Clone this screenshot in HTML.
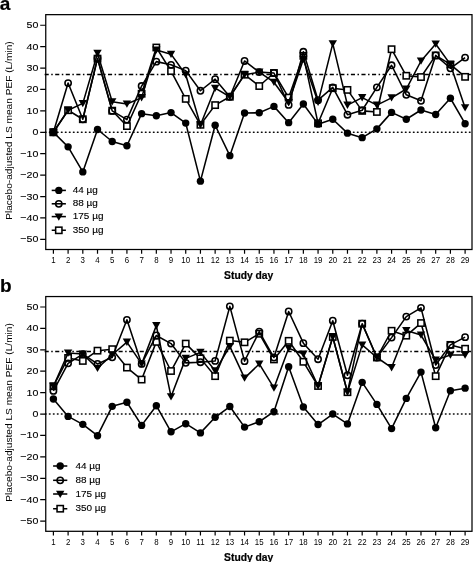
<!DOCTYPE html>
<html><head><meta charset="utf-8"><title>Placebo-adjusted LS mean PEF by study day</title>
<style>html,body{margin:0;padding:0;background:#fff}svg{display:block}text{font-family:"Liberation Sans",Arial,Helvetica,sans-serif;fill:#000;stroke:#000}</style></head><body>
<svg width="473" height="562" viewBox="0 0 473 562">
<rect width="473" height="562" fill="#fff"/>
<g id="panel-a">
<text transform="translate(-0.3 10.2)" font-size="19" font-weight="bold" stroke-width="0.2">a</text>
<line x1="45.5" x2="472" y1="132.3" y2="132.3" stroke="#000" stroke-width="1.6" stroke-linecap="round" stroke-dasharray="0.5 3.5"/>
<line x1="44.64" x2="472" y1="74.48" y2="74.48" stroke="#000" stroke-width="1.7" stroke-dasharray="4.1 2.5 1.5 2.46"/>
<rect x="45.75" y="14.65" width="426.25" height="234.85" fill="none" stroke="#000" stroke-width="1.25"/>
<path d="M40.2 239.38H45.75M40.2 217.96H45.75M40.2 196.55H45.75M40.2 175.13H45.75M40.2 153.72H45.75M40.2 132.3H45.75M40.2 110.89H45.75M40.2 89.47H45.75M40.2 68.06H45.75M40.2 46.64H45.75M40.2 25.23H45.75M53.4 249.5V253.8M68.1 249.5V253.8M82.81 249.5V253.8M97.51 249.5V253.8M112.21 249.5V253.8M126.92 249.5V253.8M141.62 249.5V253.8M156.33 249.5V253.8M171.03 249.5V253.8M185.73 249.5V253.8M200.44 249.5V253.8M215.14 249.5V253.8M229.84 249.5V253.8M244.55 249.5V253.8M259.25 249.5V253.8M273.95 249.5V253.8M288.66 249.5V253.8M303.36 249.5V253.8M318.06 249.5V253.8M332.77 249.5V253.8M347.47 249.5V253.8M362.18 249.5V253.8M376.88 249.5V253.8M391.58 249.5V253.8M406.29 249.5V253.8M420.99 249.5V253.8M435.69 249.5V253.8M450.4 249.5V253.8M465.1 249.5V253.8" stroke="#000" stroke-width="1.2" fill="none"/>
<text transform="translate(38.4 242.38) scale(1.12 1)" font-size="9.5" text-anchor="end" stroke-width="0.12">−50</text>
<text transform="translate(38.4 220.96) scale(1.12 1)" font-size="9.5" text-anchor="end" stroke-width="0.12">−40</text>
<text transform="translate(38.4 199.55) scale(1.12 1)" font-size="9.5" text-anchor="end" stroke-width="0.12">−30</text>
<text transform="translate(38.4 178.13) scale(1.12 1)" font-size="9.5" text-anchor="end" stroke-width="0.12">−20</text>
<text transform="translate(38.4 156.72) scale(1.12 1)" font-size="9.5" text-anchor="end" stroke-width="0.12">−10</text>
<text transform="translate(38.4 135.3) scale(1.12 1)" font-size="9.5" text-anchor="end" stroke-width="0.12">0</text>
<text transform="translate(38.4 113.89) scale(1.12 1)" font-size="9.5" text-anchor="end" stroke-width="0.12">10</text>
<text transform="translate(38.4 92.47) scale(1.12 1)" font-size="9.5" text-anchor="end" stroke-width="0.12">20</text>
<text transform="translate(38.4 71.06) scale(1.12 1)" font-size="9.5" text-anchor="end" stroke-width="0.12">30</text>
<text transform="translate(38.4 49.64) scale(1.12 1)" font-size="9.5" text-anchor="end" stroke-width="0.12">40</text>
<text transform="translate(38.4 28.23) scale(1.12 1)" font-size="9.5" text-anchor="end" stroke-width="0.12">50</text>
<text transform="translate(53.4 262.8) scale(0.94 1)" font-size="8.4" text-anchor="middle" stroke-width="0">1</text>
<text transform="translate(68.1 262.8) scale(0.94 1)" font-size="8.4" text-anchor="middle" stroke-width="0">2</text>
<text transform="translate(82.81 262.8) scale(0.94 1)" font-size="8.4" text-anchor="middle" stroke-width="0">3</text>
<text transform="translate(97.51 262.8) scale(0.94 1)" font-size="8.4" text-anchor="middle" stroke-width="0">4</text>
<text transform="translate(112.21 262.8) scale(0.94 1)" font-size="8.4" text-anchor="middle" stroke-width="0">5</text>
<text transform="translate(126.92 262.8) scale(0.94 1)" font-size="8.4" text-anchor="middle" stroke-width="0">6</text>
<text transform="translate(141.62 262.8) scale(0.94 1)" font-size="8.4" text-anchor="middle" stroke-width="0">7</text>
<text transform="translate(156.33 262.8) scale(0.94 1)" font-size="8.4" text-anchor="middle" stroke-width="0">8</text>
<text transform="translate(171.03 262.8) scale(0.94 1)" font-size="8.4" text-anchor="middle" stroke-width="0">9</text>
<text transform="translate(185.73 262.8) scale(0.94 1)" font-size="8.4" text-anchor="middle" stroke-width="0">10</text>
<text transform="translate(200.44 262.8) scale(0.94 1)" font-size="8.4" text-anchor="middle" stroke-width="0">11</text>
<text transform="translate(215.14 262.8) scale(0.94 1)" font-size="8.4" text-anchor="middle" stroke-width="0">12</text>
<text transform="translate(229.84 262.8) scale(0.94 1)" font-size="8.4" text-anchor="middle" stroke-width="0">13</text>
<text transform="translate(244.55 262.8) scale(0.94 1)" font-size="8.4" text-anchor="middle" stroke-width="0">14</text>
<text transform="translate(259.25 262.8) scale(0.94 1)" font-size="8.4" text-anchor="middle" stroke-width="0">15</text>
<text transform="translate(273.95 262.8) scale(0.94 1)" font-size="8.4" text-anchor="middle" stroke-width="0">16</text>
<text transform="translate(288.66 262.8) scale(0.94 1)" font-size="8.4" text-anchor="middle" stroke-width="0">17</text>
<text transform="translate(303.36 262.8) scale(0.94 1)" font-size="8.4" text-anchor="middle" stroke-width="0">18</text>
<text transform="translate(318.06 262.8) scale(0.94 1)" font-size="8.4" text-anchor="middle" stroke-width="0">19</text>
<text transform="translate(332.77 262.8) scale(0.94 1)" font-size="8.4" text-anchor="middle" stroke-width="0">20</text>
<text transform="translate(347.47 262.8) scale(0.94 1)" font-size="8.4" text-anchor="middle" stroke-width="0">21</text>
<text transform="translate(362.18 262.8) scale(0.94 1)" font-size="8.4" text-anchor="middle" stroke-width="0">22</text>
<text transform="translate(376.88 262.8) scale(0.94 1)" font-size="8.4" text-anchor="middle" stroke-width="0">23</text>
<text transform="translate(391.58 262.8) scale(0.94 1)" font-size="8.4" text-anchor="middle" stroke-width="0">24</text>
<text transform="translate(406.29 262.8) scale(0.94 1)" font-size="8.4" text-anchor="middle" stroke-width="0">25</text>
<text transform="translate(420.99 262.8) scale(0.94 1)" font-size="8.4" text-anchor="middle" stroke-width="0">26</text>
<text transform="translate(435.69 262.8) scale(0.94 1)" font-size="8.4" text-anchor="middle" stroke-width="0">27</text>
<text transform="translate(450.4 262.8) scale(0.94 1)" font-size="8.4" text-anchor="middle" stroke-width="0">28</text>
<text transform="translate(465.1 262.8) scale(0.94 1)" font-size="8.4" text-anchor="middle" stroke-width="0">29</text>
<text transform="translate(248.7 279) scale(1.03 1)" font-size="10" text-anchor="middle" font-weight="bold" stroke-width="0.2">Study day</text>
<text transform="translate(12.3 130.57) rotate(-90) scale(1.08 1)" font-size="9.4" text-anchor="middle" stroke-width="0">Placebo-adjusted LS mean PEF (L/min)</text>
<path d="M53.4 132.3L68.1 110.24L82.81 119.24L97.51 58.63L112.21 110.67L126.92 126.09L141.62 93.75L156.33 47.5L171.03 71.05L185.73 98.89L200.44 124.8L215.14 105.1L229.84 96.75L244.55 74.69L259.25 86.04L273.95 72.98L288.66 97.61L303.36 55.85L318.06 123.31L332.77 88.19L347.47 89.9L362.18 110.89L376.88 111.96L391.58 49.21L406.29 75.76L420.99 77.05L435.69 55.42L450.4 64.41L465.1 76.84" fill="none" stroke="#000" stroke-width="1.55" stroke-linejoin="round"/>
<g fill="#fff" stroke="#000" stroke-width="1.55"><rect x="50.25" y="129.15" width="6.3" height="6.3"/><rect x="64.95" y="107.09" width="6.3" height="6.3"/><rect x="79.66" y="116.09" width="6.3" height="6.3"/><rect x="94.36" y="55.48" width="6.3" height="6.3"/><rect x="109.06" y="107.52" width="6.3" height="6.3"/><rect x="123.77" y="122.94" width="6.3" height="6.3"/><rect x="138.47" y="90.6" width="6.3" height="6.3"/><rect x="153.18" y="44.35" width="6.3" height="6.3"/><rect x="167.88" y="67.9" width="6.3" height="6.3"/><rect x="182.58" y="95.74" width="6.3" height="6.3"/><rect x="197.29" y="121.65" width="6.3" height="6.3"/><rect x="211.99" y="101.95" width="6.3" height="6.3"/><rect x="226.69" y="93.6" width="6.3" height="6.3"/><rect x="241.4" y="71.54" width="6.3" height="6.3"/><rect x="256.1" y="82.89" width="6.3" height="6.3"/><rect x="270.8" y="69.83" width="6.3" height="6.3"/><rect x="285.51" y="94.46" width="6.3" height="6.3"/><rect x="300.21" y="52.7" width="6.3" height="6.3"/><rect x="314.91" y="120.16" width="6.3" height="6.3"/><rect x="329.62" y="85.04" width="6.3" height="6.3"/><rect x="344.32" y="86.75" width="6.3" height="6.3"/><rect x="359.03" y="107.73" width="6.3" height="6.3"/><rect x="373.73" y="108.81" width="6.3" height="6.3"/><rect x="388.43" y="46.06" width="6.3" height="6.3"/><rect x="403.14" y="72.61" width="6.3" height="6.3"/><rect x="417.84" y="73.9" width="6.3" height="6.3"/><rect x="432.54" y="52.27" width="6.3" height="6.3"/><rect x="447.25" y="61.26" width="6.3" height="6.3"/><rect x="461.95" y="73.69" width="6.3" height="6.3"/></g>
<path d="M53.4 132.3L68.1 110.24L82.81 103.39L97.51 53.28L112.21 101.68L126.92 104.03L141.62 97.61L156.33 50.07L171.03 54.14L185.73 74.69L200.44 125.02L215.14 88.19L229.84 96.75L244.55 74.69L259.25 72.12L273.95 82.19L288.66 102.53L303.36 59.27L318.06 102.32L332.77 43.64L347.47 105.1L362.18 97.61L376.88 105.1L391.58 97.82L406.29 89.04L420.99 60.99L435.69 44.07L450.4 64.41L465.1 107.67" fill="none" stroke="#000" stroke-width="1.55" stroke-linejoin="round"/>
<g fill="#000"><path d="M49.2 128.8H57.6L53.4 136.1Z"/><path d="M63.9 106.74H72.3L68.1 114.04Z"/><path d="M78.61 99.89H87.01L82.81 107.19Z"/><path d="M93.31 49.78H101.71L97.51 57.08Z"/><path d="M108.01 98.18H116.41L112.21 105.48Z"/><path d="M122.72 100.53H131.12L126.92 107.83Z"/><path d="M137.42 94.11H145.82L141.62 101.41Z"/><path d="M152.13 46.57H160.53L156.33 53.87Z"/><path d="M166.83 50.64H175.23L171.03 57.94Z"/><path d="M181.53 71.19H189.93L185.73 78.49Z"/><path d="M196.24 121.52H204.64L200.44 128.82Z"/><path d="M210.94 84.69H219.34L215.14 91.99Z"/><path d="M225.64 93.25H234.04L229.84 100.55Z"/><path d="M240.35 71.19H248.75L244.55 78.49Z"/><path d="M255.05 68.62H263.45L259.25 75.92Z"/><path d="M269.75 78.69H278.15L273.95 85.99Z"/><path d="M284.46 99.03H292.86L288.66 106.33Z"/><path d="M299.16 55.77H307.56L303.36 63.07Z"/><path d="M313.86 98.82H322.26L318.06 106.12Z"/><path d="M328.57 40.14H336.97L332.77 47.44Z"/><path d="M343.27 101.6H351.67L347.47 108.9Z"/><path d="M357.98 94.11H366.38L362.18 101.41Z"/><path d="M372.68 101.6H381.08L376.88 108.9Z"/><path d="M387.38 94.32H395.78L391.58 101.62Z"/><path d="M402.09 85.54H410.49L406.29 92.84Z"/><path d="M416.79 57.49H425.19L420.99 64.79Z"/><path d="M431.49 40.57H439.89L435.69 47.87Z"/><path d="M446.2 60.91H454.6L450.4 68.21Z"/><path d="M460.9 104.17H469.3L465.1 111.47Z"/></g>
<path d="M53.4 132.3L68.1 83.05L82.81 119.24L97.51 58.2L112.21 110.89L126.92 119.67L141.62 86.04L156.33 61.63L171.03 64.84L185.73 70.62L200.44 90.75L215.14 79.19L229.84 96.75L244.55 60.99L259.25 72.12L273.95 72.98L288.66 104.89L303.36 51.78L318.06 100.18L332.77 87.33L347.47 114.74L362.18 110.24L376.88 87.33L391.58 65.27L406.29 94.82L420.99 100.82L435.69 55.42L450.4 68.27L465.1 57.56" fill="none" stroke="#000" stroke-width="1.55" stroke-linejoin="round"/>
<g fill="none" stroke="#000" stroke-width="1.55"><circle cx="53.4" cy="132.3" r="3.15"/><circle cx="68.1" cy="83.05" r="3.15"/><circle cx="82.81" cy="119.24" r="3.15"/><circle cx="97.51" cy="58.2" r="3.15"/><circle cx="112.21" cy="110.89" r="3.15"/><circle cx="126.92" cy="119.67" r="3.15"/><circle cx="141.62" cy="86.04" r="3.15"/><circle cx="156.33" cy="61.63" r="3.15"/><circle cx="171.03" cy="64.84" r="3.15"/><circle cx="185.73" cy="70.62" r="3.15"/><circle cx="200.44" cy="90.75" r="3.15"/><circle cx="215.14" cy="79.19" r="3.15"/><circle cx="229.84" cy="96.75" r="3.15"/><circle cx="244.55" cy="60.99" r="3.15"/><circle cx="259.25" cy="72.12" r="3.15"/><circle cx="273.95" cy="72.98" r="3.15"/><circle cx="288.66" cy="104.89" r="3.15"/><circle cx="303.36" cy="51.78" r="3.15"/><circle cx="318.06" cy="100.18" r="3.15"/><circle cx="332.77" cy="87.33" r="3.15"/><circle cx="347.47" cy="114.74" r="3.15"/><circle cx="362.18" cy="110.24" r="3.15"/><circle cx="376.88" cy="87.33" r="3.15"/><circle cx="391.58" cy="65.27" r="3.15"/><circle cx="406.29" cy="94.82" r="3.15"/><circle cx="420.99" cy="100.82" r="3.15"/><circle cx="435.69" cy="55.42" r="3.15"/><circle cx="450.4" cy="68.27" r="3.15"/><circle cx="465.1" cy="57.56" r="3.15"/></g>
<path d="M53.4 132.3L68.1 146.86L82.81 171.92L97.51 129.52L112.21 141.51L126.92 145.79L141.62 113.67L156.33 115.81L171.03 112.6L185.73 123.09L200.44 181.13L215.14 125.23L229.84 155.64L244.55 113.03L259.25 112.81L273.95 106.39L288.66 122.66L303.36 104.03L318.06 124.16L332.77 119.24L347.47 133.16L362.18 137.65L376.88 128.87L391.58 112.38L406.29 119.24L420.99 110.03L435.69 114.53L450.4 98.25L465.1 123.73" fill="none" stroke="#000" stroke-width="1.55" stroke-linejoin="round"/>
<g fill="#000"><circle cx="53.4" cy="132.3" r="3.7"/><circle cx="68.1" cy="146.86" r="3.7"/><circle cx="82.81" cy="171.92" r="3.7"/><circle cx="97.51" cy="129.52" r="3.7"/><circle cx="112.21" cy="141.51" r="3.7"/><circle cx="126.92" cy="145.79" r="3.7"/><circle cx="141.62" cy="113.67" r="3.7"/><circle cx="156.33" cy="115.81" r="3.7"/><circle cx="171.03" cy="112.6" r="3.7"/><circle cx="185.73" cy="123.09" r="3.7"/><circle cx="200.44" cy="181.13" r="3.7"/><circle cx="215.14" cy="125.23" r="3.7"/><circle cx="229.84" cy="155.64" r="3.7"/><circle cx="244.55" cy="113.03" r="3.7"/><circle cx="259.25" cy="112.81" r="3.7"/><circle cx="273.95" cy="106.39" r="3.7"/><circle cx="288.66" cy="122.66" r="3.7"/><circle cx="303.36" cy="104.03" r="3.7"/><circle cx="318.06" cy="124.16" r="3.7"/><circle cx="332.77" cy="119.24" r="3.7"/><circle cx="347.47" cy="133.16" r="3.7"/><circle cx="362.18" cy="137.65" r="3.7"/><circle cx="376.88" cy="128.87" r="3.7"/><circle cx="391.58" cy="112.38" r="3.7"/><circle cx="406.29" cy="119.24" r="3.7"/><circle cx="420.99" cy="110.03" r="3.7"/><circle cx="435.69" cy="114.53" r="3.7"/><circle cx="450.4" cy="98.25" r="3.7"/><circle cx="465.1" cy="123.73" r="3.7"/></g>
<rect x="49.65" y="128.55" width="7.5" height="7.5" fill="#000"/>
<g>
<path d="M51.7 190.4H65.9" stroke="#000" stroke-width="1.55"/>
<circle cx="58.8" cy="190.4" r="3.7" fill="#000"/>
<text transform="translate(72.8 193) scale(1.07 1)" font-size="9.3" stroke-width="0.12">44 µg</text>
<path d="M51.7 203.8H65.9" stroke="#000" stroke-width="1.55"/>
<circle cx="58.8" cy="203.8" r="3.15" fill="none" stroke="#000" stroke-width="1.55"/>
<text transform="translate(72.8 206.4) scale(1.07 1)" font-size="9.3" stroke-width="0.12">88 µg</text>
<path d="M51.7 216.6H65.9" stroke="#000" stroke-width="1.55"/>
<g fill="#000"><path d="M54.6 213.4H63L58.8 220.7Z"/></g>
<text transform="translate(72.8 219.2) scale(1.07 1)" font-size="9.3" stroke-width="0.12">175 µg</text>
<path d="M51.7 230.3H55.65M61.95 230.3H65.9" stroke="#000" stroke-width="1.55"/>
<rect x="55.65" y="227.15" width="6.3" height="6.3" fill="none" stroke="#000" stroke-width="1.55"/>
<text transform="translate(72.8 232.9) scale(1.07 1)" font-size="9.3" stroke-width="0.12">350 µg</text>
</g>
</g>
<g id="panel-b">
<text transform="translate(-0.1 292.1)" font-size="19" font-weight="bold" stroke-width="0.2">b</text>
<line x1="45.5" x2="472" y1="414.05" y2="414.05" stroke="#000" stroke-width="1.6" stroke-linecap="round" stroke-dasharray="0.5 3.5"/>
<line x1="44.64" x2="472" y1="351.52" y2="351.52" stroke="#000" stroke-width="1.7" stroke-dasharray="4.1 2.5 1.5 2.46"/>
<rect x="45.75" y="296.55" width="426.25" height="234.75" fill="none" stroke="#000" stroke-width="1.25"/>
<path d="M40.2 521.12H45.75M40.2 499.71H45.75M40.2 478.3H45.75M40.2 456.88H45.75M40.2 435.47H45.75M40.2 414.05H45.75M40.2 392.63H45.75M40.2 371.22H45.75M40.2 349.81H45.75M40.2 328.39H45.75M40.2 306.98H45.75M53.4 531.3V535.6M68.1 531.3V535.6M82.81 531.3V535.6M97.51 531.3V535.6M112.21 531.3V535.6M126.92 531.3V535.6M141.62 531.3V535.6M156.33 531.3V535.6M171.03 531.3V535.6M185.73 531.3V535.6M200.44 531.3V535.6M215.14 531.3V535.6M229.84 531.3V535.6M244.55 531.3V535.6M259.25 531.3V535.6M273.95 531.3V535.6M288.66 531.3V535.6M303.36 531.3V535.6M318.06 531.3V535.6M332.77 531.3V535.6M347.47 531.3V535.6M362.18 531.3V535.6M376.88 531.3V535.6M391.58 531.3V535.6M406.29 531.3V535.6M420.99 531.3V535.6M435.69 531.3V535.6M450.4 531.3V535.6M465.1 531.3V535.6" stroke="#000" stroke-width="1.2" fill="none"/>
<text transform="translate(38.4 524.12) scale(1.12 1)" font-size="9.5" text-anchor="end" stroke-width="0.12">−50</text>
<text transform="translate(38.4 502.71) scale(1.12 1)" font-size="9.5" text-anchor="end" stroke-width="0.12">−40</text>
<text transform="translate(38.4 481.3) scale(1.12 1)" font-size="9.5" text-anchor="end" stroke-width="0.12">−30</text>
<text transform="translate(38.4 459.88) scale(1.12 1)" font-size="9.5" text-anchor="end" stroke-width="0.12">−20</text>
<text transform="translate(38.4 438.47) scale(1.12 1)" font-size="9.5" text-anchor="end" stroke-width="0.12">−10</text>
<text transform="translate(38.4 417.05) scale(1.12 1)" font-size="9.5" text-anchor="end" stroke-width="0.12">0</text>
<text transform="translate(38.4 395.63) scale(1.12 1)" font-size="9.5" text-anchor="end" stroke-width="0.12">10</text>
<text transform="translate(38.4 374.22) scale(1.12 1)" font-size="9.5" text-anchor="end" stroke-width="0.12">20</text>
<text transform="translate(38.4 352.81) scale(1.12 1)" font-size="9.5" text-anchor="end" stroke-width="0.12">30</text>
<text transform="translate(38.4 331.39) scale(1.12 1)" font-size="9.5" text-anchor="end" stroke-width="0.12">40</text>
<text transform="translate(38.4 309.98) scale(1.12 1)" font-size="9.5" text-anchor="end" stroke-width="0.12">50</text>
<text transform="translate(53.4 544.6) scale(0.94 1)" font-size="8.4" text-anchor="middle" stroke-width="0">1</text>
<text transform="translate(68.1 544.6) scale(0.94 1)" font-size="8.4" text-anchor="middle" stroke-width="0">2</text>
<text transform="translate(82.81 544.6) scale(0.94 1)" font-size="8.4" text-anchor="middle" stroke-width="0">3</text>
<text transform="translate(97.51 544.6) scale(0.94 1)" font-size="8.4" text-anchor="middle" stroke-width="0">4</text>
<text transform="translate(112.21 544.6) scale(0.94 1)" font-size="8.4" text-anchor="middle" stroke-width="0">5</text>
<text transform="translate(126.92 544.6) scale(0.94 1)" font-size="8.4" text-anchor="middle" stroke-width="0">6</text>
<text transform="translate(141.62 544.6) scale(0.94 1)" font-size="8.4" text-anchor="middle" stroke-width="0">7</text>
<text transform="translate(156.33 544.6) scale(0.94 1)" font-size="8.4" text-anchor="middle" stroke-width="0">8</text>
<text transform="translate(171.03 544.6) scale(0.94 1)" font-size="8.4" text-anchor="middle" stroke-width="0">9</text>
<text transform="translate(185.73 544.6) scale(0.94 1)" font-size="8.4" text-anchor="middle" stroke-width="0">10</text>
<text transform="translate(200.44 544.6) scale(0.94 1)" font-size="8.4" text-anchor="middle" stroke-width="0">11</text>
<text transform="translate(215.14 544.6) scale(0.94 1)" font-size="8.4" text-anchor="middle" stroke-width="0">12</text>
<text transform="translate(229.84 544.6) scale(0.94 1)" font-size="8.4" text-anchor="middle" stroke-width="0">13</text>
<text transform="translate(244.55 544.6) scale(0.94 1)" font-size="8.4" text-anchor="middle" stroke-width="0">14</text>
<text transform="translate(259.25 544.6) scale(0.94 1)" font-size="8.4" text-anchor="middle" stroke-width="0">15</text>
<text transform="translate(273.95 544.6) scale(0.94 1)" font-size="8.4" text-anchor="middle" stroke-width="0">16</text>
<text transform="translate(288.66 544.6) scale(0.94 1)" font-size="8.4" text-anchor="middle" stroke-width="0">17</text>
<text transform="translate(303.36 544.6) scale(0.94 1)" font-size="8.4" text-anchor="middle" stroke-width="0">18</text>
<text transform="translate(318.06 544.6) scale(0.94 1)" font-size="8.4" text-anchor="middle" stroke-width="0">19</text>
<text transform="translate(332.77 544.6) scale(0.94 1)" font-size="8.4" text-anchor="middle" stroke-width="0">20</text>
<text transform="translate(347.47 544.6) scale(0.94 1)" font-size="8.4" text-anchor="middle" stroke-width="0">21</text>
<text transform="translate(362.18 544.6) scale(0.94 1)" font-size="8.4" text-anchor="middle" stroke-width="0">22</text>
<text transform="translate(376.88 544.6) scale(0.94 1)" font-size="8.4" text-anchor="middle" stroke-width="0">23</text>
<text transform="translate(391.58 544.6) scale(0.94 1)" font-size="8.4" text-anchor="middle" stroke-width="0">24</text>
<text transform="translate(406.29 544.6) scale(0.94 1)" font-size="8.4" text-anchor="middle" stroke-width="0">25</text>
<text transform="translate(420.99 544.6) scale(0.94 1)" font-size="8.4" text-anchor="middle" stroke-width="0">26</text>
<text transform="translate(435.69 544.6) scale(0.94 1)" font-size="8.4" text-anchor="middle" stroke-width="0">27</text>
<text transform="translate(450.4 544.6) scale(0.94 1)" font-size="8.4" text-anchor="middle" stroke-width="0">28</text>
<text transform="translate(465.1 544.6) scale(0.94 1)" font-size="8.4" text-anchor="middle" stroke-width="0">29</text>
<text transform="translate(248.7 560.8) scale(1.03 1)" font-size="10" text-anchor="middle" font-weight="bold" stroke-width="0.2">Study day</text>
<text transform="translate(12.3 412.42) rotate(-90) scale(1.08 1)" font-size="9.4" text-anchor="middle" stroke-width="0">Placebo-adjusted LS mean PEF (L/min)</text>
<path d="M53.4 386.21L68.1 357.94L82.81 360.94L97.51 350.66L112.21 349.16L126.92 367.58L141.62 379.57L156.33 341.88L171.03 371.01L185.73 343.59L200.44 358.37L215.14 376.15L229.84 340.6L244.55 342.31L259.25 333.74L273.95 359.44L288.66 340.81L303.36 361.8L318.06 386L332.77 336.96L347.47 392.21L362.18 323.68L376.88 357.51L391.58 330.75L406.29 335.67L420.99 323.04L435.69 376.15L450.4 344.88L465.1 348.73" fill="none" stroke="#000" stroke-width="1.55" stroke-linejoin="round"/>
<g fill="#fff" stroke="#000" stroke-width="1.55"><rect x="50.25" y="383.06" width="6.3" height="6.3"/><rect x="64.95" y="354.79" width="6.3" height="6.3"/><rect x="79.66" y="357.79" width="6.3" height="6.3"/><rect x="94.36" y="347.51" width="6.3" height="6.3"/><rect x="109.06" y="346.01" width="6.3" height="6.3"/><rect x="123.77" y="364.43" width="6.3" height="6.3"/><rect x="138.47" y="376.42" width="6.3" height="6.3"/><rect x="153.18" y="338.73" width="6.3" height="6.3"/><rect x="167.88" y="367.86" width="6.3" height="6.3"/><rect x="182.58" y="340.44" width="6.3" height="6.3"/><rect x="197.29" y="355.22" width="6.3" height="6.3"/><rect x="211.99" y="373" width="6.3" height="6.3"/><rect x="226.69" y="337.45" width="6.3" height="6.3"/><rect x="241.4" y="339.16" width="6.3" height="6.3"/><rect x="256.1" y="330.59" width="6.3" height="6.3"/><rect x="270.8" y="356.29" width="6.3" height="6.3"/><rect x="285.51" y="337.66" width="6.3" height="6.3"/><rect x="300.21" y="358.65" width="6.3" height="6.3"/><rect x="314.91" y="382.85" width="6.3" height="6.3"/><rect x="329.62" y="333.81" width="6.3" height="6.3"/><rect x="344.32" y="389.06" width="6.3" height="6.3"/><rect x="359.03" y="320.53" width="6.3" height="6.3"/><rect x="373.73" y="354.36" width="6.3" height="6.3"/><rect x="388.43" y="327.6" width="6.3" height="6.3"/><rect x="403.14" y="332.52" width="6.3" height="6.3"/><rect x="417.84" y="319.89" width="6.3" height="6.3"/><rect x="432.54" y="373" width="6.3" height="6.3"/><rect x="447.25" y="341.73" width="6.3" height="6.3"/><rect x="461.95" y="345.58" width="6.3" height="6.3"/></g>
<path d="M53.4 386.21L68.1 353.02L82.81 354.09L97.51 368.22L112.21 354.73L126.92 342.1L141.62 363.94L156.33 325.61L171.03 396.7L185.73 358.37L200.44 352.37L215.14 370.79L229.84 346.38L244.55 378.07L259.25 363.94L273.95 387.92L288.66 348.31L303.36 354.09L318.06 386L332.77 336.96L347.47 392.21L362.18 344.88L376.88 357.51L391.58 367.58L406.29 330.53L420.99 335.03L435.69 360.08L450.4 354.94L465.1 354.94" fill="none" stroke="#000" stroke-width="1.55" stroke-linejoin="round"/>
<g fill="#000"><path d="M49.2 382.71H57.6L53.4 390.01Z"/><path d="M63.9 349.52H72.3L68.1 356.82Z"/><path d="M78.61 350.59H87.01L82.81 357.89Z"/><path d="M93.31 364.72H101.71L97.51 372.02Z"/><path d="M108.01 351.23H116.41L112.21 358.53Z"/><path d="M122.72 338.6H131.12L126.92 345.9Z"/><path d="M137.42 360.44H145.82L141.62 367.74Z"/><path d="M152.13 322.11H160.53L156.33 329.41Z"/><path d="M166.83 393.2H175.23L171.03 400.5Z"/><path d="M181.53 354.87H189.93L185.73 362.17Z"/><path d="M196.24 348.87H204.64L200.44 356.17Z"/><path d="M210.94 367.29H219.34L215.14 374.59Z"/><path d="M225.64 342.88H234.04L229.84 350.18Z"/><path d="M240.35 374.57H248.75L244.55 381.87Z"/><path d="M255.05 360.44H263.45L259.25 367.74Z"/><path d="M269.75 384.42H278.15L273.95 391.72Z"/><path d="M284.46 344.81H292.86L288.66 352.11Z"/><path d="M299.16 350.59H307.56L303.36 357.89Z"/><path d="M313.86 382.5H322.26L318.06 389.8Z"/><path d="M328.57 333.46H336.97L332.77 340.76Z"/><path d="M343.27 388.71H351.67L347.47 396.01Z"/><path d="M357.98 341.38H366.38L362.18 348.68Z"/><path d="M372.68 354.01H381.08L376.88 361.31Z"/><path d="M387.38 364.08H395.78L391.58 371.38Z"/><path d="M402.09 327.03H410.49L406.29 334.33Z"/><path d="M416.79 331.53H425.19L420.99 338.83Z"/><path d="M431.49 356.58H439.89L435.69 363.88Z"/><path d="M446.2 351.44H454.6L450.4 358.74Z"/><path d="M460.9 351.44H469.3L465.1 358.74Z"/></g>
<path d="M53.4 390.92L68.1 363.3L82.81 354.09L97.51 363.94L112.21 357.3L126.92 319.82L141.62 363.94L156.33 335.46L171.03 343.59L185.73 362.87L200.44 362.23L215.14 360.94L229.84 306.33L244.55 361.15L259.25 331.6L273.95 357.51L288.66 311.47L303.36 343.17L318.06 359.23L332.77 320.68L347.47 375.29L362.18 323.68L376.88 357.51L391.58 337.6L406.29 316.61L420.99 307.83L435.69 365.01L450.4 344.88L465.1 337.17" fill="none" stroke="#000" stroke-width="1.55" stroke-linejoin="round"/>
<g fill="none" stroke="#000" stroke-width="1.55"><circle cx="53.4" cy="390.92" r="3.15"/><circle cx="68.1" cy="363.3" r="3.15"/><circle cx="82.81" cy="354.09" r="3.15"/><circle cx="97.51" cy="363.94" r="3.15"/><circle cx="112.21" cy="357.3" r="3.15"/><circle cx="126.92" cy="319.82" r="3.15"/><circle cx="141.62" cy="363.94" r="3.15"/><circle cx="156.33" cy="335.46" r="3.15"/><circle cx="171.03" cy="343.59" r="3.15"/><circle cx="185.73" cy="362.87" r="3.15"/><circle cx="200.44" cy="362.23" r="3.15"/><circle cx="215.14" cy="360.94" r="3.15"/><circle cx="229.84" cy="306.33" r="3.15"/><circle cx="244.55" cy="361.15" r="3.15"/><circle cx="259.25" cy="331.6" r="3.15"/><circle cx="273.95" cy="357.51" r="3.15"/><circle cx="288.66" cy="311.47" r="3.15"/><circle cx="303.36" cy="343.17" r="3.15"/><circle cx="318.06" cy="359.23" r="3.15"/><circle cx="332.77" cy="320.68" r="3.15"/><circle cx="347.47" cy="375.29" r="3.15"/><circle cx="362.18" cy="323.68" r="3.15"/><circle cx="376.88" cy="357.51" r="3.15"/><circle cx="391.58" cy="337.6" r="3.15"/><circle cx="406.29" cy="316.61" r="3.15"/><circle cx="420.99" cy="307.83" r="3.15"/><circle cx="435.69" cy="365.01" r="3.15"/><circle cx="450.4" cy="344.88" r="3.15"/><circle cx="465.1" cy="337.17" r="3.15"/></g>
<path d="M53.4 399.06L68.1 416.41L82.81 424.33L97.51 435.68L112.21 406.34L126.92 402.27L141.62 425.4L156.33 405.7L171.03 431.82L185.73 423.69L200.44 432.9L215.14 417.26L229.84 406.55L244.55 427.11L259.25 421.76L273.95 411.69L288.66 366.72L303.36 406.98L318.06 424.54L332.77 414.05L347.47 423.9L362.18 382.36L376.88 404.41L391.58 428.61L406.29 398.42L420.99 372.08L435.69 427.76L450.4 390.71L465.1 388.14" fill="none" stroke="#000" stroke-width="1.55" stroke-linejoin="round"/>
<g fill="#000"><circle cx="53.4" cy="399.06" r="3.7"/><circle cx="68.1" cy="416.41" r="3.7"/><circle cx="82.81" cy="424.33" r="3.7"/><circle cx="97.51" cy="435.68" r="3.7"/><circle cx="112.21" cy="406.34" r="3.7"/><circle cx="126.92" cy="402.27" r="3.7"/><circle cx="141.62" cy="425.4" r="3.7"/><circle cx="156.33" cy="405.7" r="3.7"/><circle cx="171.03" cy="431.82" r="3.7"/><circle cx="185.73" cy="423.69" r="3.7"/><circle cx="200.44" cy="432.9" r="3.7"/><circle cx="215.14" cy="417.26" r="3.7"/><circle cx="229.84" cy="406.55" r="3.7"/><circle cx="244.55" cy="427.11" r="3.7"/><circle cx="259.25" cy="421.76" r="3.7"/><circle cx="273.95" cy="411.69" r="3.7"/><circle cx="288.66" cy="366.72" r="3.7"/><circle cx="303.36" cy="406.98" r="3.7"/><circle cx="318.06" cy="424.54" r="3.7"/><circle cx="332.77" cy="414.05" r="3.7"/><circle cx="347.47" cy="423.9" r="3.7"/><circle cx="362.18" cy="382.36" r="3.7"/><circle cx="376.88" cy="404.41" r="3.7"/><circle cx="391.58" cy="428.61" r="3.7"/><circle cx="406.29" cy="398.42" r="3.7"/><circle cx="420.99" cy="372.08" r="3.7"/><circle cx="435.69" cy="427.76" r="3.7"/><circle cx="450.4" cy="390.71" r="3.7"/><circle cx="465.1" cy="388.14" r="3.7"/></g>
<g>
<path d="M53.1 466H67.3" stroke="#000" stroke-width="1.55"/>
<circle cx="60.2" cy="466" r="3.7" fill="#000"/>
<text transform="translate(75.4 468.6) scale(1.07 1)" font-size="9.3" stroke-width="0.12">44 µg</text>
<path d="M53.1 480.3H67.3" stroke="#000" stroke-width="1.55"/>
<circle cx="60.2" cy="480.3" r="3.15" fill="none" stroke="#000" stroke-width="1.55"/>
<text transform="translate(75.4 482.9) scale(1.07 1)" font-size="9.3" stroke-width="0.12">88 µg</text>
<path d="M53.1 494H67.3" stroke="#000" stroke-width="1.55"/>
<g fill="#000"><path d="M56 490.8H64.4L60.2 498.1Z"/></g>
<text transform="translate(75.4 496.6) scale(1.07 1)" font-size="9.3" stroke-width="0.12">175 µg</text>
<path d="M53.1 508.7H57.05M63.35 508.7H67.3" stroke="#000" stroke-width="1.55"/>
<rect x="57.05" y="505.55" width="6.3" height="6.3" fill="none" stroke="#000" stroke-width="1.55"/>
<text transform="translate(75.4 511.3) scale(1.07 1)" font-size="9.3" stroke-width="0.12">350 µg</text>
</g>
</g>
</svg></body></html>
